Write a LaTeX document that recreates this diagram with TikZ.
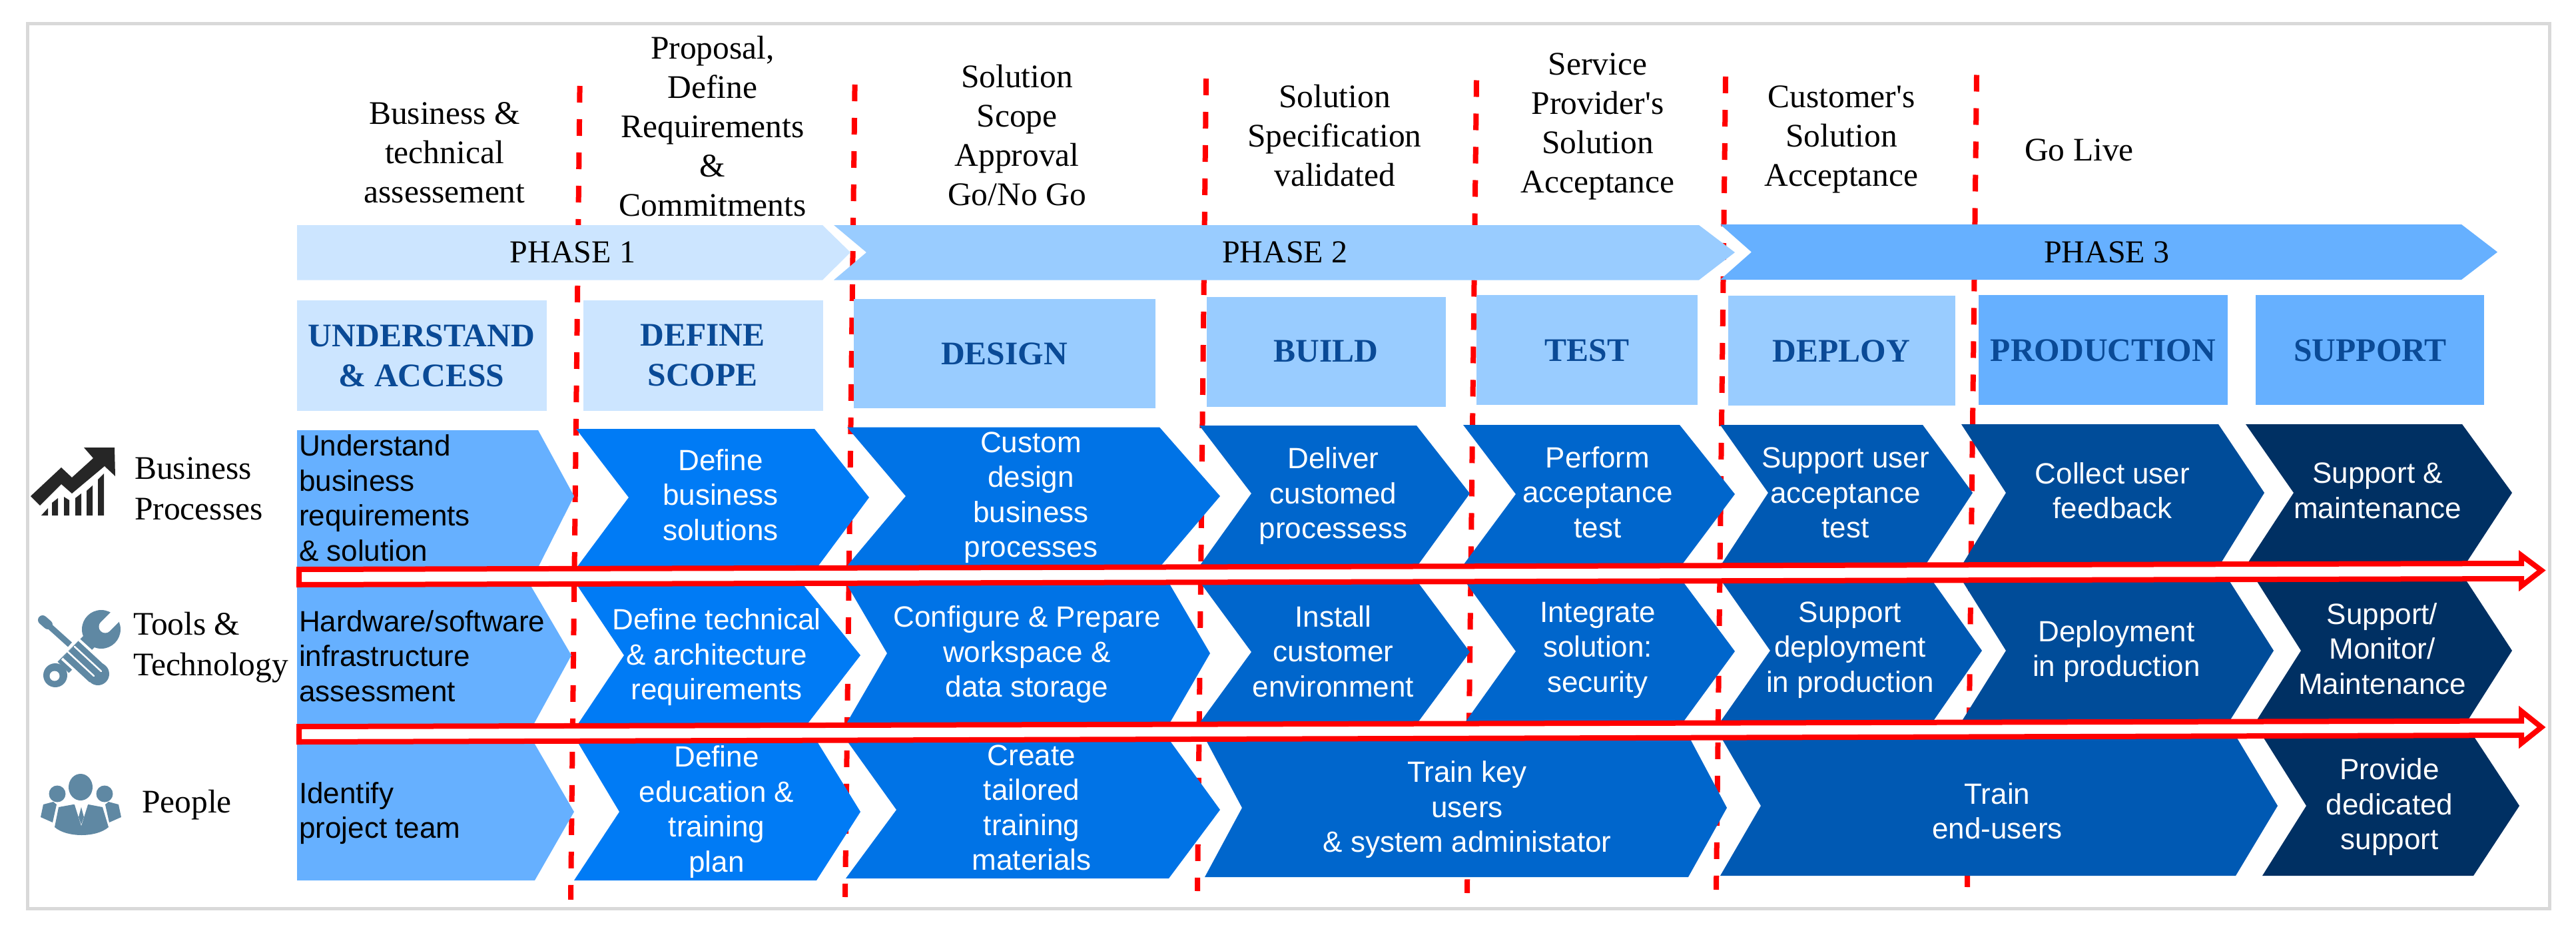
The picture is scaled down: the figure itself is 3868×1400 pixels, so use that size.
\documentclass[tikz,border=0pt]{standalone}
\usepackage{fontspec}
\setmainfont{Liberation Serif}
\newfontfamily\hsans{Liberation Sans}
\definecolor{pone}{HTML}{CCE5FF}
\definecolor{ptwo}{HTML}{99CCFF}
\definecolor{pthree}{HTML}{66B0FF}
\definecolor{cA}{HTML}{007BF5}
\definecolor{cB}{HTML}{0073E6}
\definecolor{cC}{HTML}{0066CC}
\definecolor{cD}{HTML}{0059B3}
\definecolor{cE}{HTML}{004C99}
\definecolor{cF}{HTML}{003063}
\definecolor{stagetext}{HTML}{0A4A96}
\definecolor{iconblue}{HTML}{5F88A3}
\definecolor{icondark}{HTML}{262626}
\definecolor{framegray}{HTML}{D9D9D9}
\tikzset{
  toplabel/.style={inner sep=0pt,align=center,text=black,font=\fontsize{49.5}{59}\selectfont},
  sidelabel/.style={inner sep=0pt,align=left,anchor=west,text=black,font=\fontsize{49.5}{61}\selectfont},
  phaselabel/.style={inner sep=0pt,text=black,font=\fontsize{48}{58}\selectfont},
  stagelabel/.style={inner sep=0pt,align=center,text=stagetext,font=\fontsize{49.5}{60}\selectfont\bfseries},
  whitetext/.style={inner sep=0pt,align=center,text=white,font=\hsans\fontsize{44}{52.5}\selectfont},
  blacktext/.style={inner sep=0pt,align=left,anchor=west,text=black,font=\hsans\fontsize{44}{52.5}\selectfont},
  milestone/.style={draw=red,line width=8pt,dash pattern=on 25pt off 25pt},
  flowarrow/.style={draw=red,fill=white,line width=8pt,line join=miter},
}
\begin{document}
\begin{tikzpicture}[x=1pt,y=-1pt]
\useasboundingbox (0,0) rectangle (3868,1400);
\draw[framegray,line width=5pt] (41.5,35.5) rectangle (3828.5,1364.5);

% milestone lines
\foreach \n/\xa/\ya/\xb/\yb in {1/870.6/129/857/1351,2/1283.6/127/1269/1347,3/1811/118/1798/1338,4/2217/120.5/2203/1341,5/2591/115/2577/1336,6/2968/112.5/2954/1332}{
  \coordinate (mt\n) at (\xa,\ya);
  \coordinate (mb\n) at (\xb,\yb);
  \draw[milestone] (mt\n) -- (mb\n);
}

% phase bars
\fill[pone] (446,338) -- (1235,338) -- (1277,379) -- (1235,420.5) -- (446,420.5) -- cycle;
\fill[ptwo] (1252,338) -- (2551,338) -- (2605,379) -- (2551,420.5) -- (1252,420.5) -- (1301,379) -- cycle;
\fill[pthree] (2583,337) -- (3696,337) -- (3750,378.5) -- (3696,420) -- (2583,420) -- (2630,378.5) -- cycle;

% stage boxes
\fill[pone] (446,451) rectangle (821,617);
\fill[pone] (876,451) rectangle (1236,617);
\fill[ptwo] (1282,449) rectangle (1735,613);
\fill[ptwo] (1812,446) rectangle (2171,611);
\fill[ptwo] (2217,443) rectangle (2549,608);
\fill[ptwo] (2595,444) rectangle (2936,609);
\fill[pthree] (2971,443) rectangle (3345,608);
\fill[pthree] (3387,443) rectangle (3730,608);

% row 1
\fill[pthree] (446,646) -- (808,646) -- (862,745) -- (808,852) -- (446,852) -- cycle;
\fill[cA] (865,644) -- (1223,644) -- (1305,747) -- (1227,852) -- (866,852) -- (944,747) -- cycle;
\fill[cB] (1272,641.5) -- (1741,641.5) -- (1832,745) -- (1741,852) -- (1270,852) -- (1360,745) -- cycle;
\fill[cC] (1801,639) -- (2127,639) -- (2207,741) -- (2128,850) -- (1801,850) -- (1879,741) -- cycle;
\fill[cC] (2197,638) -- (2522,638) -- (2605,742) -- (2524,850) -- (2196,850) -- (2276,742) -- cycle;
\fill[cD] (2583,638) -- (2887,638) -- (2962,740) -- (2890,850) -- (2583,850) -- (2655,740) -- cycle;
\fill[cE] (2945,637) -- (3331,637) -- (3400,740) -- (3332,850) -- (2945,850) -- (3012,740) -- cycle;
\fill[cF] (3372,637) -- (3697,637) -- (3772,740) -- (3700,850) -- (3372,850) -- (3444,740) -- cycle;

% row 2
\fill[pthree] (446,878) -- (796,878) -- (858,984) -- (800,1090) -- (446,1090) -- cycle;
\fill[cA] (866,878) -- (1206,878) -- (1292,984) -- (1210,1090) -- (866,1090) -- (937,984) -- cycle;
\fill[cB] (1270,875) -- (1755,875) -- (1817,981) -- (1755,1088) -- (1270,1088) -- (1332,981) -- cycle;
\fill[cC] (1801,873) -- (2128,873) -- (2207,979) -- (2128,1086) -- (1801,1086) -- (1879,979) -- cycle;
\fill[cC] (2199,872) -- (2526,872) -- (2605,978) -- (2526,1086) -- (2199,1086) -- (2276,978) -- cycle;
\fill[cD] (2583,870) -- (2900,870) -- (2976,977) -- (2902,1084) -- (2583,1084) -- (2658,977) -- cycle;
\fill[cE] (2945,870) -- (3346,870) -- (3414,977) -- (3347,1084) -- (2945,1084) -- (3012,977) -- cycle;
\fill[cF] (3387,870) -- (3702,870) -- (3772,977) -- (3704,1084) -- (3387,1084) -- (3455,977) -- cycle;

% row 3
\fill[pthree] (446,1112) -- (800,1112) -- (862,1219) -- (803,1322) -- (446,1322) -- cycle;
\fill[cA] (866,1112) -- (1226,1112) -- (1292,1219) -- (1226,1322) -- (862,1322) -- (930,1219) -- cycle;
\fill[cB] (1270,1110) -- (1755,1110) -- (1832,1216) -- (1755,1319) -- (1270,1319) -- (1346,1216) -- cycle;
\fill[cC] (1809,1108) -- (2537,1108) -- (2593,1213) -- (2535,1317) -- (1809,1317) -- (1865,1213) -- cycle;
\fill[cD] (2583,1105) -- (3357,1105) -- (3420,1210) -- (3357,1315) -- (2583,1315) -- (2644,1210) -- cycle;
\fill[cF] (3397,1105) -- (3714,1105) -- (3783,1210) -- (3714,1315) -- (3397,1315) -- (3463,1210) -- cycle;

% red arrows
\draw[flowarrow] (449,855) -- (3786,846) -- (3786,834) -- (3816,856.5) -- (3786,880) -- (3786,869) -- (449,878) -- cycle;
\draw[flowarrow] (449,1091) -- (3786,1082.5) -- (3786,1068) -- (3816,1092) -- (3786,1116) -- (3786,1104) -- (449,1114) -- cycle;

% icon: chart
\fill[icondark] (46,745) -- (92,702) -- (108,717) -- (140,688) -- (126,672) -- (172,672) -- (173,715) -- (157,700) -- (108,741) -- (92,727) -- (60,759) -- cycle;
\fill[icondark] (62,774) -- (72,763) -- (72,774) -- cycle;
\fill[icondark] (78,774) -- (78,755) -- (87,748) -- (87,774) -- cycle;
\fill[icondark] (96,774) -- (96,746) -- (104,751) -- (104,774) -- cycle;
\fill[icondark] (113,774) -- (113,748) -- (122,741) -- (122,774) -- cycle;
\fill[icondark] (130,774) -- (130,737) -- (139,729) -- (139,774) -- cycle;
\fill[icondark] (147,774) -- (147,720) -- (156,711) -- (156,774) -- cycle;

% icon: tools
\fill[iconblue] (152,945) circle (29);
\draw[white,line width=19pt,line cap=round] (158,941) -- (185,914);
\draw[iconblue,line width=24pt] (135,962) -- (95,1002);
\fill[iconblue] (83,1014) circle (18);
\fill[white] (82,1015) circle (7.5);
\draw[iconblue,line width=9pt] (65,932) -- (105,968);
\draw[iconblue,line width=14pt,line cap=round] (64,931) -- (72,938);
\draw[white,line width=42pt] (106,975) -- (140,1006);
\draw[iconblue,line width=34pt] (106,975) -- (146,1012);
\fill[iconblue] (147,1012) circle (17);
\draw[white,line width=2.5pt,line cap=round] (101,978) -- (141,1015);
\draw[white,line width=2.5pt,line cap=round] (112,971) -- (152,1008);

% icon: people
\fill[iconblue] (121,1182) ellipse (18 and 20);
\fill[iconblue] (86,1192) circle (12.5);
\fill[iconblue] (157,1192) circle (12.5);
\fill[iconblue] (88,1212) -- (110,1208) -- (133,1208) -- (154,1212) -- (163,1242) .. controls (145,1258) and (100,1258) .. (82,1242) -- cycle;
\fill[white] (112,1208) -- (122,1240) -- (132,1208) -- cycle;
\fill[iconblue] (122,1212) -- (118,1227) -- (122,1238) -- (126,1227) -- cycle;
\fill[iconblue] (65,1208) -- (80,1204) -- (85,1208) -- (79,1235) -- (61,1227) -- cycle;
\fill[iconblue] (178,1208) -- (163,1204) -- (158,1208) -- (164,1235) -- (182,1227) -- cycle;

% side labels
\node[sidelabel] (sideA) at (202,734) {Business\\Processes};
\node[sidelabel] (sideB) at (200,972) {Tools \&\\Technology};
\node[sidelabel] (sideC) at (213,1209) {People};

% top labels
\node[toplabel] (topA) at (667.5,229) {Business \&\\technical\\assessement};
\node[toplabel] (topB) at (1070,190) {Proposal,\\Define\\Requirements\\\&\\Commitments};
\node[toplabel] (topC) at (1527,203) {Solution\\Scope\\Approval\\Go/No Go};
\node[toplabel] (topD) at (2004,204) {Solution\\Specification\\validated};
\node[toplabel] (topE) at (2399,190) {Service\\Provider\textquotesingle s\\Solution\\Acceptance};
\node[toplabel] (topF) at (2765,209) {Customer\textquotesingle s\\Solution\\Acceptance};
\node[toplabel] (topG) at (3122,225) {Go Live};

% phase labels
\node[phaselabel] (phA) at (860,379) {PHASE 1};
\node[phaselabel] (phB) at (1929,379) {PHASE 2};
\node[phaselabel] (phC) at (3163,378.5) {PHASE 3};

% stage labels
\node[stagelabel] (stA) at (633,534) {UNDERSTAND\\\& ACCESS};
\node[stagelabel] (stB) at (1055,534) {DEFINE\\SCOPE};
\node[stagelabel] (stC) at (1508,531) {DESIGN};
\node[stagelabel] (stD) at (1991,528) {BUILD};
\node[stagelabel] (stE) at (2383,526) {TEST};
\node[stagelabel] (stF) at (2765,527) {DEPLOY};
\node[stagelabel] (stG) at (3158,526) {PRODUCTION};
\node[stagelabel] (stH) at (3559,526) {SUPPORT};

% row 1 text
\node[blacktext] (aA) at (449,748) {Understand\\business\\requirements\\\& solution};
\node[whitetext] (aB) at (1082,743) {Define\\business\\solutions};
\node[whitetext] (aC) at (1548,747) {Custom\\design\\business\\processes};
\node[whitetext] (aD) at (2002,745) {Deliver\\customed\\processess};
\node[whitetext] (aE) at (2399,739) {Perform\\acceptance\\test};
\node[whitetext] (aF) at (2771,740) {Support user\\acceptance\\test};
\node[whitetext] (aG) at (3172,737) {Collect user\\feedback};
\node[whitetext] (aH) at (3570,737) {Support \&\\maintenance};

% row 2 text
\node[blacktext] (bA) at (449,985) {Hardware/software\\infrastructure\\assessment};
\node[whitetext] (bB) at (1076,987) {Define technical\\\& architecture\\requirements};
\node[whitetext] (bC) at (1542,983) {Configure \& Prepare\\workspace \&\\data storage};
\node[whitetext] (bD) at (2002,978) {Install\\customer\\environment};
\node[whitetext] (bE) at (2399,976) {Integrate\\solution:\\security};
\node[whitetext] (bF) at (2778,976) {Support\\deployment\\in production};
\node[whitetext] (bG) at (3178,978) {Deployment\\in production};
\node[whitetext] (bH) at (3577,974) {Support/\\Monitor/\\Maintenance};

% row 3 text
\node[blacktext] (cA) at (449,1221) {Identify\\project team};
\node[whitetext] (cB) at (1076,1219) {Define\\education \&\\training\\plan};
\node[whitetext] (cC) at (1549,1213) {Create\\tailored\\training\\materials};
\node[whitetext] (cD) at (2203,1216) {Train key\\users\\\& system administator};
\node[whitetext] (cE) at (2999,1218) {Train\\end-users};
\node[whitetext] (cF) at (3588,1212) {Provide\\dedicated\\support};
\end{tikzpicture}
\end{document}
